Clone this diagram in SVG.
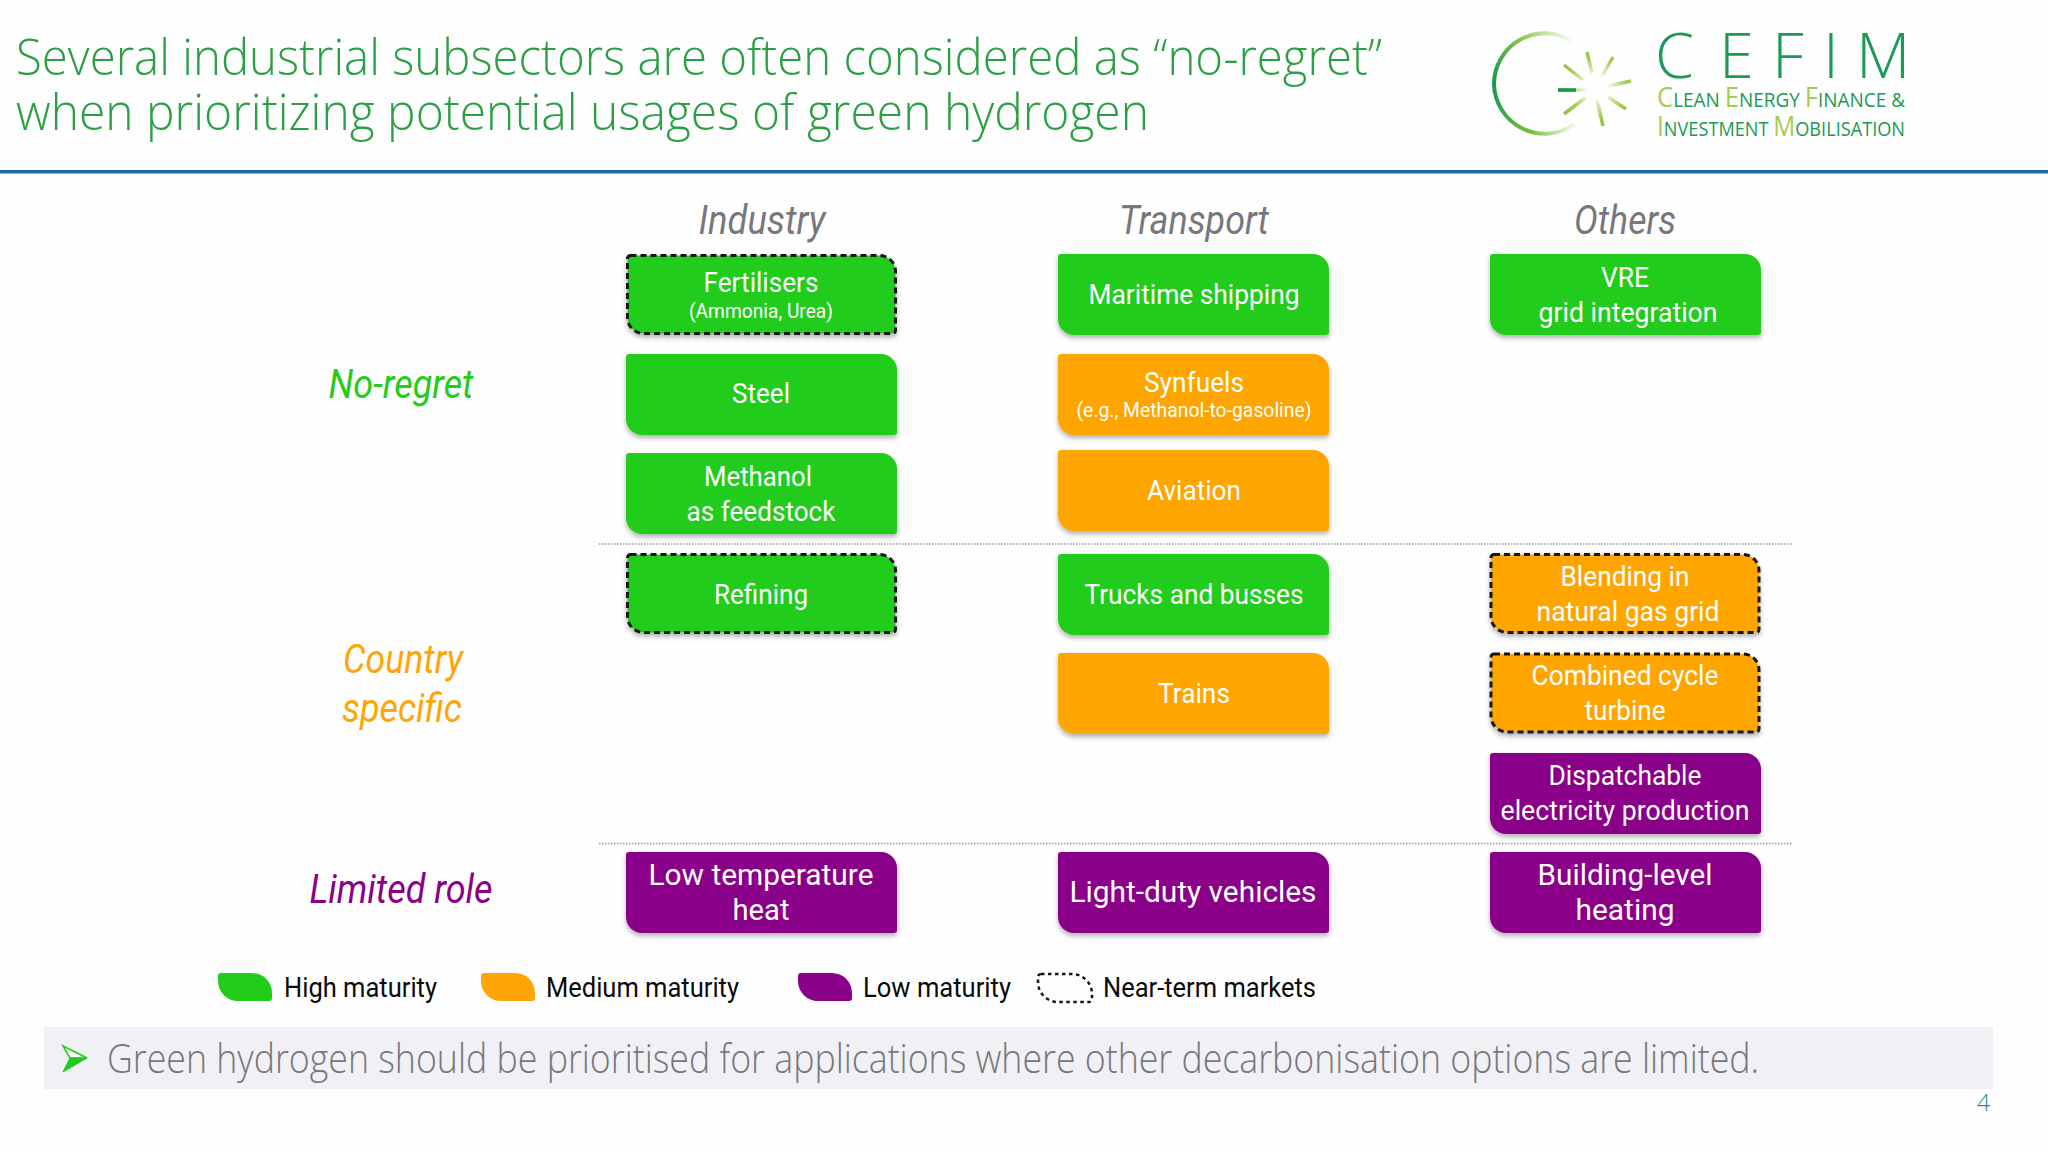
<svg xmlns="http://www.w3.org/2000/svg" width="2048" height="1152" viewBox="0 0 2048 1152">
<style>
.g{fill:#22cc1a}.o{fill:#ffa506}.p{fill:#8b0088}
.d{stroke:#161616;stroke-width:3;stroke-dasharray:6 4}
.s{filter:url(#sh)}
text{font-family:Roboto,"Liberation Sans",sans-serif}
.t{fill:#fff;font-size:28px;text-anchor:middle}
.b{font-size:30px}
.u{fill:#fff;font-size:20px;text-anchor:middle}
.h{fill:#77777c;font-size:40px;font-style:italic;text-anchor:middle}
.r{font-size:40px;font-style:italic;text-anchor:middle}
.l{fill:#0a0a0a;font-size:28px}
.lt{font-family:"Open Sans","Liberation Sans",sans-serif;font-weight:300}
.sep{stroke:#9a9a9a;stroke-width:1.5;stroke-dasharray:1.5 1.5;fill:none}
.ray{stroke:url(#rg);stroke-width:3.5;fill:none}
.lg{fill:#1a9a55}.lb{fill:#a4cc50}
.lo{font-family:"Open Sans","Liberation Sans",sans-serif;font-weight:400}
</style>
<defs>
<path id="pill" d="M3 0H255a16 16 0 0 1 16 16V78a3 3 0 0 1-3 3H16a16 16 0 0 1-16-16V3a3 3 0 0 1 3-3z"/>
<path id="pilld" d="M3 0H252a16 16 0 0 1 16 16V75a3 3 0 0 1-3 3H16a16 16 0 0 1-16-16V3a3 3 0 0 1 3-3z"/>
<path id="sw" d="M3 0H34a20 20 0 0 1 20 20V25a3 3 0 0 1-3 3H20a20 20 0 0 1-20-20V3a3 3 0 0 1 3-3z"/>
<filter id="sh" x="-5%" y="-10%" width="110%" height="125%"><feDropShadow dx="0" dy="3" stdDeviation="2.5" flood-color="#000" flood-opacity="0.3"/></filter>
<radialGradient id="rg" gradientUnits="userSpaceOnUse" cx="1597" cy="87" r="45"><stop offset="0.2" stop-color="#fff"/><stop offset="0.65" stop-color="#a4cc50"/><stop offset="1" stop-color="#8cc040"/></radialGradient>
<linearGradient id="a1" gradientUnits="userSpaceOnUse" x1="1495" y1="84" x2="1575" y2="40"><stop offset="0" stop-color="#149a50"/><stop offset="0.5" stop-color="#8cc850"/><stop offset="1" stop-color="#fff"/></linearGradient>
<linearGradient id="a2" gradientUnits="userSpaceOnUse" x1="1495" y1="84" x2="1578" y2="128"><stop offset="0" stop-color="#149a50"/><stop offset="0.6" stop-color="#7cc040"/><stop offset="1" stop-color="#fff"/></linearGradient>
</defs>
<rect width="2048" height="1152" fill="#fefefe"/>
<text class="lt" fill="#2a9f45" font-size="50" x="16" y="75" textLength="1366" lengthAdjust="spacingAndGlyphs">Several industrial subsectors are often considered as “no-regret”</text>
<text class="lt" fill="#2a9f45" font-size="50" x="16" y="130" textLength="1133" lengthAdjust="spacingAndGlyphs">when prioritizing potential usages of green hydrogen</text>
<g id="logo">
<path d="M1572 41A51 51 0 0 0 1494 84" fill="none" stroke="url(#a1)" stroke-width="4"/>
<path d="M1494 84A51 51 0 0 0 1575 124" fill="none" stroke="url(#a2)" stroke-width="4"/>
<path class="ray" d="M1564 65L1583 80"/>
<path class="ray" d="M1587 52L1592 73"/>
<path class="ray" d="M1613 57L1601 78"/>
<path class="ray" d="M1631 81L1608 86"/>
<path class="ray" d="M1626 109L1608 97"/>
<path class="ray" d="M1603 126L1597 100"/>
<path class="ray" d="M1564 114L1585 98"/>
<path d="M1558 90H1588" stroke="url(#rg)" stroke-width="3.5" fill="none"/>
<path d="M1558 90H1576" stroke="#149a50" stroke-width="3.5" fill="none"/>
<text class="lt lg" font-size="63" x="1655 1719 1772 1823 1856" y="78">CEFIM</text>
<text class="lo" x="1657" y="107" font-size="20" fill="#1a9a55" textLength="248" lengthAdjust="spacingAndGlyphs"><tspan class="lb" font-size="27">C</tspan>LEAN <tspan class="lb" font-size="27">E</tspan>NERGY <tspan class="lb" font-size="27">F</tspan>INANCE &amp;</text>
<text class="lo" x="1657" y="136" font-size="20" fill="#1a9a55" textLength="248" lengthAdjust="spacingAndGlyphs"><tspan class="lb" font-size="27">I</tspan>NVESTMENT <tspan class="lb" font-size="27">M</tspan>OBILISATION</text>
</g>
<rect x="0" y="170" width="2048" height="3.5" fill="#1a6a9a"/>
<text class="h" x="762" y="234" textLength="127" lengthAdjust="spacingAndGlyphs">Industry</text>
<text class="h" x="1194" y="234" textLength="150" lengthAdjust="spacingAndGlyphs">Transport</text>
<text class="h" x="1625" y="234" textLength="102" lengthAdjust="spacingAndGlyphs">Others</text>
<text class="r" x="401" y="398" fill="#22cc1a" textLength="145" lengthAdjust="spacingAndGlyphs">No-regret</text>
<text class="r" x="403" y="673" fill="#ffa506" textLength="120" lengthAdjust="spacingAndGlyphs">Country</text>
<text class="r" x="402" y="722" fill="#ffa506" textLength="120" lengthAdjust="spacingAndGlyphs">specific</text>
<text class="r" x="401" y="903" fill="#8b0088" textLength="183" lengthAdjust="spacingAndGlyphs">Limited role</text>
<g id="connectors">
<path class="sep" d="M599 544H1792"/>
<path class="sep" d="M599 843.500H1792"/>
</g>
<g id="n-fertilisers"><use href="#pilld" x="627.500" y="255.500" class="g d s"/><text class="t" x="761" y="292" textLength="115" lengthAdjust="spacingAndGlyphs">Fertilisers</text><text class="u" x="761" y="318" textLength="144" lengthAdjust="spacingAndGlyphs">(Ammonia, Urea)</text></g>
<g id="n-steel"><use href="#pill" x="626" y="354" class="g s"/><text class="t" x="761" y="403" textLength="58" lengthAdjust="spacingAndGlyphs">Steel</text></g>
<g id="n-methanol"><use href="#pill" x="626" y="453" class="g s"/><text class="t" x="758" y="486" textLength="108" lengthAdjust="spacingAndGlyphs">Methanol</text><text class="t" x="761" y="521" textLength="149" lengthAdjust="spacingAndGlyphs">as feedstock</text></g>
<g id="n-refining"><use href="#pilld" x="627.500" y="554.500" class="g d s"/><text class="t" x="761" y="604" textLength="94" lengthAdjust="spacingAndGlyphs">Refining</text></g>
<g id="n-lowtemp"><use href="#pill" x="626" y="852" class="p s"/><text class="t b" x="761" y="885" textLength="225" lengthAdjust="spacingAndGlyphs">Low temperature</text><text class="t b" x="761" y="920" textLength="57" lengthAdjust="spacingAndGlyphs">heat</text></g>
<g id="n-maritime"><use href="#pill" x="1058" y="254" class="g s"/><text class="t" x="1194" y="304" textLength="211" lengthAdjust="spacingAndGlyphs">Maritime shipping</text></g>
<g id="n-synfuels"><use href="#pill" x="1058" y="354" class="o s"/><text class="t" x="1194" y="392" textLength="100" lengthAdjust="spacingAndGlyphs">Synfuels</text><text class="u" x="1194" y="417" textLength="235" lengthAdjust="spacingAndGlyphs">(e.g., Methanol-to-gasoline)</text></g>
<g id="n-aviation"><use href="#pill" x="1058" y="450" class="o s"/><text class="t" x="1194" y="500" textLength="94" lengthAdjust="spacingAndGlyphs">Aviation</text></g>
<g id="n-trucks"><use href="#pill" x="1058" y="554" class="g s"/><text class="t" x="1194" y="604" textLength="219" lengthAdjust="spacingAndGlyphs">Trucks and busses</text></g>
<g id="n-trains"><use href="#pill" x="1058" y="653" class="o s"/><text class="t" x="1194" y="703" textLength="72" lengthAdjust="spacingAndGlyphs">Trains</text></g>
<g id="n-lightduty"><use href="#pill" x="1058" y="852" class="p s"/><text class="t b" x="1193" y="902" textLength="247" lengthAdjust="spacingAndGlyphs">Light-duty vehicles</text></g>
<g id="n-vre"><use href="#pill" x="1490" y="254" class="g s"/><text class="t" x="1625" y="287" textLength="48" lengthAdjust="spacingAndGlyphs">VRE</text><text class="t" x="1628" y="322" textLength="179" lengthAdjust="spacingAndGlyphs">grid integration</text></g>
<g id="n-blending"><use href="#pilld" x="1491" y="554.500" class="o d s"/><text class="t" x="1625" y="586" textLength="129" lengthAdjust="spacingAndGlyphs">Blending in</text><text class="t" x="1628" y="621" textLength="183" lengthAdjust="spacingAndGlyphs">natural gas grid</text></g>
<g id="n-ccgt"><use href="#pilld" x="1491" y="654" class="o d s"/><text class="t" x="1625" y="685" textLength="187" lengthAdjust="spacingAndGlyphs">Combined cycle</text><text class="t" x="1625" y="720" textLength="81" lengthAdjust="spacingAndGlyphs">turbine</text></g>
<g id="n-dispatch"><use href="#pill" x="1490" y="753" class="p s"/><text class="t" x="1625" y="785" textLength="153" lengthAdjust="spacingAndGlyphs">Dispatchable</text><text class="t" x="1625" y="820" textLength="249" lengthAdjust="spacingAndGlyphs">electricity production</text></g>
<g id="n-building"><use href="#pill" x="1490" y="852" class="p s"/><text class="t b" x="1625" y="885" textLength="175" lengthAdjust="spacingAndGlyphs">Building-level</text><text class="t b" x="1625" y="920" textLength="99" lengthAdjust="spacingAndGlyphs">heating</text></g>
<g id="legend">
<use href="#sw" x="218" y="973" class="g"/><text class="l" x="284" y="997" textLength="153" lengthAdjust="spacingAndGlyphs">High maturity</text>
<use href="#sw" x="481" y="973" class="o"/><text class="l" x="546" y="997" textLength="193" lengthAdjust="spacingAndGlyphs">Medium maturity</text>
<use href="#sw" x="798" y="973" class="p"/><text class="l" x="863" y="997" textLength="148" lengthAdjust="spacingAndGlyphs">Low maturity</text>
<use href="#sw" x="1038" y="974" fill="none" stroke="#161616" stroke-width="2.500" stroke-dasharray="3.500 3.500"/><text class="l" x="1103" y="997" textLength="213" lengthAdjust="spacingAndGlyphs">Near-term markets</text>
</g>
<rect x="44" y="1027" width="1949" height="62" fill="#f1f0f4"/>
<path d="M63 1046L87 1058L70 1058Z" fill="#fff" stroke="#22cc1a" stroke-width="1.500" stroke-linejoin="miter"/>
<path d="M87 1058L63 1072L70 1058Z" fill="#22cc1a" stroke="#22cc1a" stroke-width="1"/>
<text class="lt" x="107" y="1073" font-size="40" fill="#77777c" textLength="1652" lengthAdjust="spacingAndGlyphs">Green hydrogen should be prioritised for applications where other decarbonisation options are limited.</text>
<text class="lt" x="1977" y="1111" font-size="23" fill="#2a8a9a">4</text>
</svg>
